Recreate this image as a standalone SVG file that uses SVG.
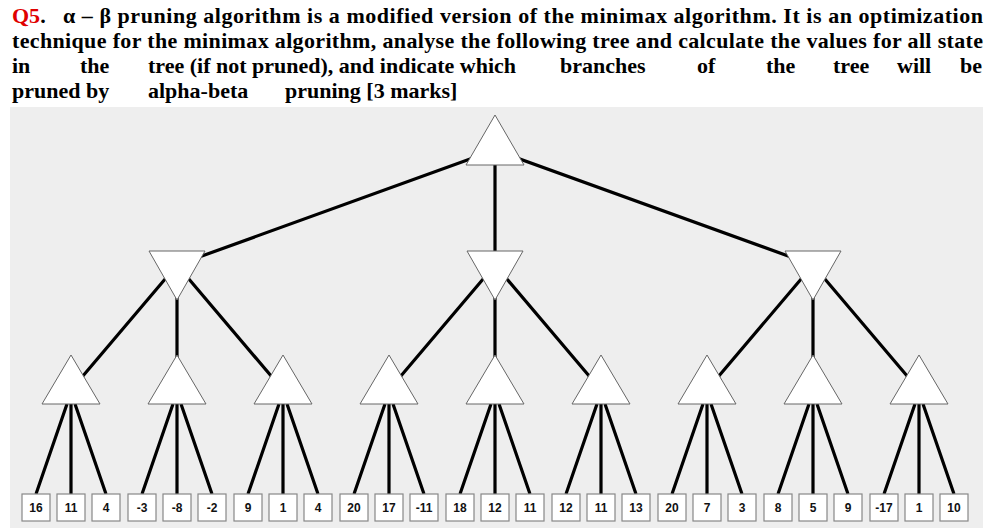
<svg xmlns="http://www.w3.org/2000/svg" width="989" height="528" viewBox="0 0 989 528">
<style>
.q{font-family:"Liberation Serif",serif;font-weight:bold;font-size:22px;fill:#000}
.t{fill:#fff;stroke:#666;stroke-width:1}
.e{stroke:#000;stroke-width:3.2;fill:none}
.b{fill:#fff;stroke:#888;stroke-width:1.2}
.v{font-family:"Liberation Sans",sans-serif;font-weight:bold;font-size:12px;text-anchor:middle;fill:#111}
</style>
<rect width="989" height="528" fill="#fff"/>
<g id="question">
<text class="q" x="12" y="23"><tspan fill="#e00000">Q5</tspan>.</text>
<text class="q" x="63" y="23" textLength="920" lengthAdjust="spacing">α – β pruning algorithm is a modified version of the minimax algorithm. It is an optimization</text>
<text class="q" x="12" y="48" textLength="971" lengthAdjust="spacing">technique for the minimax algorithm, analyse the following tree and calculate the values for all state</text>
<text class="q" y="73"><tspan x="12">in</tspan><tspan x="80">the</tspan><tspan x="148">tree (if not pruned), and indicate which</tspan><tspan x="560">branches</tspan><tspan x="697">of</tspan><tspan x="766">the</tspan><tspan x="833">tree</tspan><tspan x="897">will</tspan><tspan x="960">be</tspan></text>
<text class="q" y="98"><tspan x="12">pruned by</tspan><tspan x="148">alpha-beta</tspan><tspan x="285">pruning [3 marks]</tspan></text>
</g>
<rect x="10" y="107" width="973" height="421" fill="#eeeeee"/>
<g id="connectors">
<path class="e" d="M495 150L177 265M495 150L495 265M495 150L813 265
M177 265L71 390M177 265L177 390M177 265L283 390
M495 265L389 390M495 265L495 390M495 265L601 390
M813 265L707 390M813 265L813 390M813 265L919 390"/>
<path class="e" d="
M67 404L36 494M71 404L71 494M75 404L106 494
M173 404L142 494M177 404L177 494M181 404L212 494
M279 404L248 494M283 404L283 494M287 404L318 494
M385 404L354 494M389 404L389 494M393 404L424 494
M491 404L460 494M495 404L495 494M499 404L530 494
M597 404L566 494M601 404L601 494M605 404L636 494
M703 404L672 494M707 404L707 494M711 404L742 494
M809 404L778 494M813 404L813 494M817 404L848 494
M915 404L884 494M919 404L919 494M923 404L954 494"/>
</g>
<g id="root"><polygon class="t" points="495,115 524,165 466,165"/></g>
<g id="min1"><polygon class="t" points="149,251 205,251 177,300"/></g>
<g id="min2"><polygon class="t" points="467,251 523,251 495,300"/></g>
<g id="min3"><polygon class="t" points="785,251 841,251 813,300"/></g>
<g id="max1"><polygon class="t" points="71,355 100,404 42,404"/></g>
<g id="max2"><polygon class="t" points="177,355 206,404 148,404"/></g>
<g id="max3"><polygon class="t" points="283,355 312,404 254,404"/></g>
<g id="max4"><polygon class="t" points="389,355 418,404 360,404"/></g>
<g id="max5"><polygon class="t" points="495,355 524,404 466,404"/></g>
<g id="max6"><polygon class="t" points="601,355 630,404 572,404"/></g>
<g id="max7"><polygon class="t" points="707,355 736,404 678,404"/></g>
<g id="max8"><polygon class="t" points="813,355 842,404 784,404"/></g>
<g id="max9"><polygon class="t" points="919,355 948,404 890,404"/></g>
<g id="leaves">
<g id="l1"><rect class="b" x="22" y="494" width="28" height="27"/><text class="v" x="36" y="512">16</text></g>
<g id="l2"><rect class="b" x="57" y="494" width="28" height="27"/><text class="v" x="71" y="512">11</text></g>
<g id="l3"><rect class="b" x="92" y="494" width="28" height="27"/><text class="v" x="106" y="512">4</text></g>
<g id="l4"><rect class="b" x="128" y="494" width="28" height="27"/><text class="v" x="142" y="512">-3</text></g>
<g id="l5"><rect class="b" x="163" y="494" width="28" height="27"/><text class="v" x="177" y="512">-8</text></g>
<g id="l6"><rect class="b" x="198" y="494" width="28" height="27"/><text class="v" x="212" y="512">-2</text></g>
<g id="l7"><rect class="b" x="234" y="494" width="28" height="27"/><text class="v" x="248" y="512">9</text></g>
<g id="l8"><rect class="b" x="269" y="494" width="28" height="27"/><text class="v" x="283" y="512">1</text></g>
<g id="l9"><rect class="b" x="304" y="494" width="28" height="27"/><text class="v" x="318" y="512">4</text></g>
<g id="l10"><rect class="b" x="340" y="494" width="28" height="27"/><text class="v" x="354" y="512">20</text></g>
<g id="l11"><rect class="b" x="375" y="494" width="28" height="27"/><text class="v" x="389" y="512">17</text></g>
<g id="l12"><rect class="b" x="410" y="494" width="28" height="27"/><text class="v" x="424" y="512">-11</text></g>
<g id="l13"><rect class="b" x="446" y="494" width="28" height="27"/><text class="v" x="460" y="512">18</text></g>
<g id="l14"><rect class="b" x="481" y="494" width="28" height="27"/><text class="v" x="495" y="512">12</text></g>
<g id="l15"><rect class="b" x="516" y="494" width="28" height="27"/><text class="v" x="530" y="512">11</text></g>
<g id="l16"><rect class="b" x="552" y="494" width="28" height="27"/><text class="v" x="566" y="512">12</text></g>
<g id="l17"><rect class="b" x="587" y="494" width="28" height="27"/><text class="v" x="601" y="512">11</text></g>
<g id="l18"><rect class="b" x="622" y="494" width="28" height="27"/><text class="v" x="636" y="512">13</text></g>
<g id="l19"><rect class="b" x="658" y="494" width="28" height="27"/><text class="v" x="672" y="512">20</text></g>
<g id="l20"><rect class="b" x="693" y="494" width="28" height="27"/><text class="v" x="707" y="512">7</text></g>
<g id="l21"><rect class="b" x="728" y="494" width="28" height="27"/><text class="v" x="742" y="512">3</text></g>
<g id="l22"><rect class="b" x="764" y="494" width="28" height="27"/><text class="v" x="778" y="512">8</text></g>
<g id="l23"><rect class="b" x="799" y="494" width="28" height="27"/><text class="v" x="813" y="512">5</text></g>
<g id="l24"><rect class="b" x="834" y="494" width="28" height="27"/><text class="v" x="848" y="512">9</text></g>
<g id="l25"><rect class="b" x="870" y="494" width="28" height="27"/><text class="v" x="884" y="512">-17</text></g>
<g id="l26"><rect class="b" x="905" y="494" width="28" height="27"/><text class="v" x="919" y="512">1</text></g>
<g id="l27"><rect class="b" x="940" y="494" width="28" height="27"/><text class="v" x="954" y="512">10</text></g>
</g>
</svg>
